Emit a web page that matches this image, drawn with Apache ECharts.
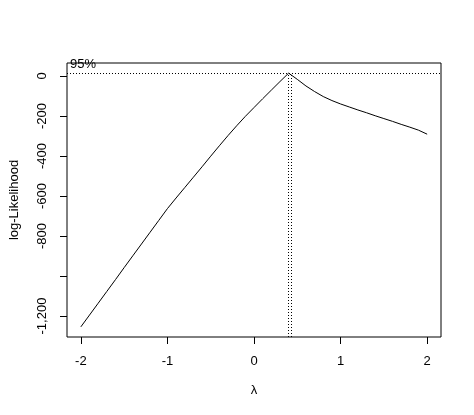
<!DOCTYPE html>
<html>
<head>
<meta charset="utf-8">
<script src="https://cdn.jsdelivr.net/npm/echarts@6/dist/echarts.min.js"></script>
<style>
  html, body { margin: 0; padding: 0; background: #fff; }
  #chart { width: 474px; height: 415px; }
</style>
</head>
<body>
<div id="chart"></div>
<script>
// lambda grid (boxcox default: -2 to 2 by 0.1)
const lambdas = [
  -2.0, -1.9, -1.8, -1.7, -1.6, -1.5, -1.4, -1.3, -1.2, -1.1,
  -1.0, -0.9, -0.8, -0.7, -0.6, -0.5, -0.4, -0.3, -0.2, -0.1,
  0.0, 0.1, 0.2, 0.3, 0.4, 0.5, 0.6, 0.7, 0.8, 0.9,
  1.0, 1.1, 1.2, 1.3, 1.4, 1.5, 1.6, 1.7, 1.8, 1.9, 2.0
];
// profile log-likelihood
const logLik = [
  -1254, -1195, -1136, -1077, -1018, -958, -899, -840, -781, -722,
  -663, -610, -558, -506, -454, -401, -349, -298, -249, -202,
  -158, -114, -71, -28, 14, -17, -50, -78, -103, -123,
  -140, -155, -170, -184, -199, -213, -227, -242, -256, -271, -291
];
const lim95 = 12;              // 95% cut-off level
const peakLambda = 0.4;
const ciLambda = [0.396, 0.435];
const xTicks = [-2, -1, 0, 1, 2];
const yTicks = [-1200, -1000, -800, -600, -400, -200, 0];
const yLabels = [-1200, -800, -600, -400, -200, 0];

// R style 4% padding of the ranges
const xr = [Math.min(...lambdas), Math.max(...lambdas)];
const yr = [Math.min(...logLik, lim95), Math.max(...logLik, lim95)];
const xPad = (xr[1] - xr[0]) * 0.04;
const yPad = (yr[1] - yr[0]) * 0.04;
const xMin = xr[0] - xPad, xMax = xr[1] + xPad;
const yMin = yr[0] - yPad, yMax = yr[1] + yPad;

const font = 'Liberation Sans, Arial, sans-serif';
const dotted = { type: [1, 2], color: '#000', width: 1 };

const chart = echarts.init(document.getElementById('chart'));
chart.setOption({
  animation: false,
  backgroundColor: '#fff',
  grid: { left: 62, right: 33, top: 63, bottom: 78, show: true, borderColor: '#000', borderWidth: 1 },
  xAxis: {
    type: 'value', min: xMin, max: xMax,
    name: 'λ', nameLocation: 'middle', nameGap: 47,
    nameTextStyle: { color: '#000', fontSize: 13, fontFamily: font },
    axisLine: { show: false, onZero: false },
    axisTick: { show: true, customValues: xTicks, length: 7, lineStyle: { color: '#000' } },
    axisLabel: { customValues: xTicks, margin: 18, color: '#000', fontSize: 13, fontFamily: font },
    splitLine: { show: false }
  },
  yAxis: {
    type: 'value', min: yMin, max: yMax,
    name: 'log-Likelihood', nameLocation: 'middle', nameGap: 46,
    nameTextStyle: { color: '#000', fontSize: 13, fontFamily: font },
    axisLine: { show: false, onZero: false },
    axisTick: { show: true, customValues: yTicks, length: 7, lineStyle: { color: '#000' } },
    axisLabel: { customValues: yLabels, rotate: 90, margin: 18, color: '#000', fontSize: 13, fontFamily: font },
    splitLine: { show: false }
  },
  series: [{
    type: 'line',
    data: lambdas.map((l, i) => [l, logLik[i]]),
    showSymbol: false,
    lineStyle: { color: '#000', width: 1 },
    markLine: {
      silent: true, symbol: 'none', animation: false,
      lineStyle: dotted,
      label: { show: false },
      data: [
        {
          yAxis: lim95,
          label: {
            show: true, formatter: '95%', position: 'insideStartTop', distance: [3, 3],
            color: '#000', fontSize: 13, fontFamily: font
          }
        },
        [{ coord: [peakLambda, yMin] }, { coord: [peakLambda, Math.max(...logLik)] }],
        [{ coord: [ciLambda[0], yMin] }, { coord: [ciLambda[0], lim95] }],
        [{ coord: [ciLambda[1], yMin] }, { coord: [ciLambda[1], lim95] }]
      ]
    }
  }]
});
</script>
</body>
</html>
